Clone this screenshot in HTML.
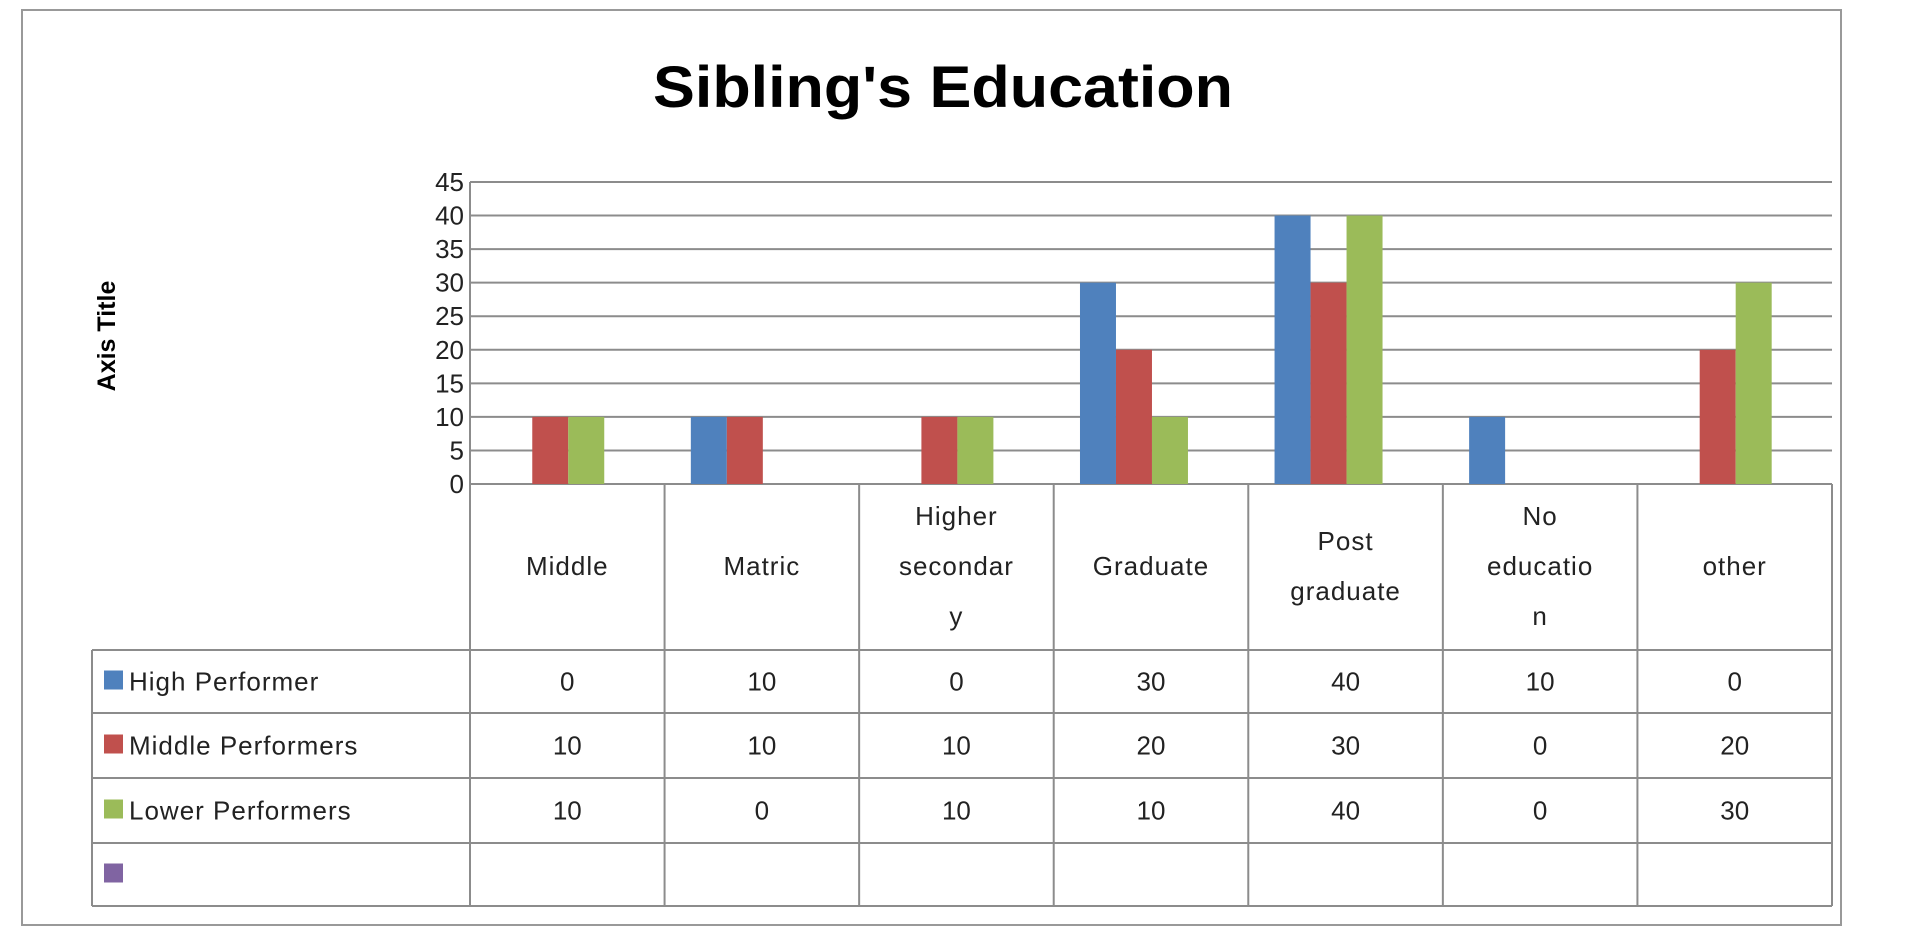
<!DOCTYPE html>
<html><head><meta charset="utf-8"><style>
html,body{margin:0;padding:0;background:#fff;}
svg{display:block;font-family:"Liberation Sans",sans-serif;}
</style></head><body>
<svg width="1914" height="937" viewBox="0 0 1914 937">
<rect x="22" y="10" width="1819" height="915" fill="#fff" stroke="#999" stroke-width="2"/>
<text x="943" y="107" text-anchor="middle" font-size="58" font-weight="bold" fill="#000" textLength="580" lengthAdjust="spacingAndGlyphs">Sibling's Education</text>
<text transform="translate(115,336) rotate(-90)" text-anchor="middle" font-size="25" font-weight="bold">Axis Title</text>
<g id="grid"></g><g id="bars"></g><g id="table"></g>
</svg>
<script>
const categories=["Middle","Matric","Higher\nsecondar\ny","Graduate","Post\ngraduate","No\neducatio\nn","other"];
const seriesNames=["High Performer","Middle Performers","Lower Performers",""];
const high=[0,10,0,30,40,10,0];
const middle=[10,10,10,20,30,0,20];
const lower=[10,0,10,10,40,0,30];
const yTicks=[0,5,10,15,20,25,30,35,40,45];
const NS="http://www.w3.org/2000/svg";
const colors=["#4F81BD","#C0504D","#9BBB59","#8064A2"];
const X0=470,X1=1832,Y0=484,Y1=182,YMAX=45,TL=92;
const colW=(X1-X0)/categories.length;
const y=v=>Y0-(v/YMAX)*(Y0-Y1);
const xCol=i=>X0+i*colW;
function mk(tag,attrs,parent){const e=document.createElementNS(NS,tag);for(const k in attrs)e.setAttribute(k,attrs[k]);parent.appendChild(e);return e;}
const grid=document.getElementById('grid');
yTicks.forEach(t=>{
 const l=mk('line',{x1:X0,x2:X1,y1:y(t),y2:y(t),stroke:'#8c8c8c','stroke-width':2},grid);
 
 
 const tx=mk('text',{x:X0-6,y:y(t)+9,'text-anchor':'end','font-size':26,fill:'#222'},grid);
 tx.textContent=t;
 
 
});
const ax=mk('line',{x1:X0,x2:X0,y1:Y1,y2:Y0,stroke:'#8c8c8c','stroke-width':2},grid);


const bars=document.getElementById('bars');
const series=[high,middle,lower];
const bw=colW*0.185,off=colW*0.135;
series.forEach((s,si)=>s.forEach((v,i)=>{
 if(v<=0)return;
 const r=mk('rect',{x:xCol(i)+off+si*bw,y:y(v),width:bw,height:Y0-y(v),fill:colors[si]},bars);
 
 
}));
const tb=document.getElementById('table');
const rowY=[484,650,713,778,843,906];
const st={stroke:'#8c8c8c','stroke-width':2};
for(let i=0;i<=categories.length;i++){const l=mk('line',Object.assign({x1:xCol(i),x2:xCol(i),y1:484,y2:906},st),tb);}
const ll=mk('line',Object.assign({x1:TL,x2:TL,y1:650,y2:906},st),tb);


for(let r=1;r<rowY.length;r++){const l=mk('line',Object.assign({x1:TL,x2:X1,y1:rowY[r],y2:rowY[r]},st),tb);}
categories.forEach((c,i)=>{
 const lines=c.split("\n");const cx=xCol(i)+colW/2;const lh=50;const start=566-(lines.length-1)*lh/2+9;
 lines.forEach((s,k)=>{const t=mk('text',{x:cx,y:start+k*lh,'text-anchor':'middle','font-size':26,fill:'#222','letter-spacing':'1'},tb);t.textContent=s;
 
 });
});
const allRows=[high,middle,lower];
seriesNames.forEach((n,r)=>{
 const cy=(rowY[r+1]+rowY[r+2])/2;
 const k=mk('rect',{x:TL+12,y:cy-11,width:19,height:19,fill:colors[r]},tb);
 
 
 const t=mk('text',{x:TL+37,y:cy+9,'font-size':26,fill:'#222','letter-spacing':'1'},tb);t.textContent=n;
 
 
 if(r<3)allRows[r].forEach((v,i)=>{const d=mk('text',{x:xCol(i)+colW/2,y:cy+9,'text-anchor':'middle','font-size':26,fill:'#222'},tb);d.textContent=v;
 
 });
});
</script>
</body></html>
